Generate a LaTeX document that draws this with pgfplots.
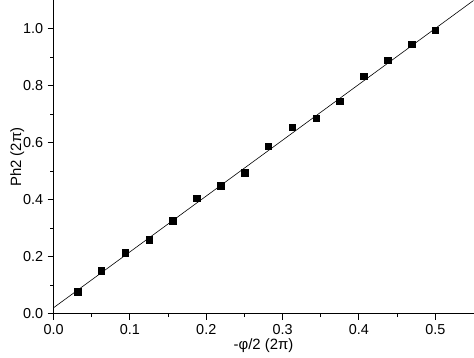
\documentclass[border={7bp 2bp 0bp 0bp}]{standalone}
\usepackage{fontspec}
\setmainfont{Liberation Sans}
\usepackage{pgfplots}
\pgfplotsset{compat=1.18}
\begin{document}
\begin{tikzpicture}
\begin{axis}[
  scale only axis,
  width=421bp, height=314bp,
  xmin=0, xmax=0.55, ymin=0, ymax=1.1,
  axis x line*=bottom, axis y line*=left,
  axis line style={line width=1pt},
  xtick={0,0.1,0.2,0.3,0.4,0.5},
  ytick={0,0.2,0.4,0.6,0.8,1.0},
  minor x tick num=1, minor y tick num=1,
  tick align=outside,
  major tick length=6bp, minor tick length=3.5bp,
  tick style={line width=1pt, black},
  /pgf/number format/assume math mode=true,
  /pgf/number format/fixed, /pgf/number format/fixed zerofill,
  /pgf/number format/precision=1,
  tick label style={font=\fontsize{14.5}{17}\selectfont},
  label style={font=\fontsize{15}{18}\selectfont},
  xticklabel style={yshift=-1bp},
  yticklabel style={xshift=-1bp},
  xlabel={-φ/2 (2π)},
  ylabel={Ph2 (2π)},
  xlabel style={yshift=3bp},
  ylabel style={yshift=-8bp},
  clip=false,
]
\addplot[black, line width=0.6pt] coordinates {(0,0.021) (0.55,1.1)};
\addplot[only marks, mark=square*, mark size=3.3bp, black] coordinates {
(0.03125,0.077) (0.0625,0.151) (0.09375,0.215) (0.125,0.260)
(0.15625,0.327) (0.1875,0.405) (0.21875,0.450) (0.25,0.496)
(0.28125,0.588) (0.3125,0.655) (0.34375,0.687) (0.375,0.746)
(0.40625,0.834) (0.4375,0.891) (0.46875,0.947) (0.5,0.996)
};
\end{axis}
\end{tikzpicture}
\end{document}
